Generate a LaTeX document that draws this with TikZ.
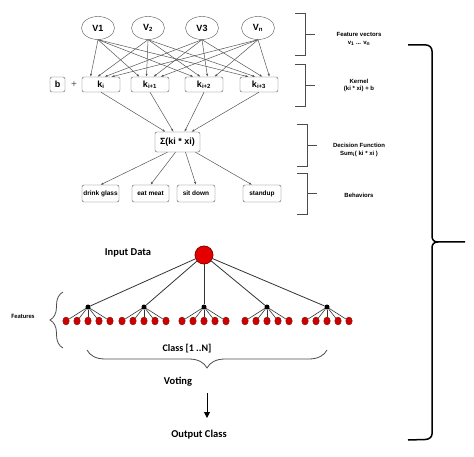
\documentclass[tikz,border=0pt]{standalone}
\usepackage{fontspec}
\newfontfamily\arialfont{Liberation Sans}
\newfontfamily\calfont{Carlito}
\usepackage{tikz}
\usetikzlibrary{positioning,calc,shapes,arrows.meta,decorations.pathreplacing}
\definecolor{DarkRed}{RGB}{140,0,0}
\definecolor{DotRed}{RGB}{205,0,0}
\definecolor{LineGray}{RGB}{85,85,85}

\begin{document}
\begin{tikzpicture}[x=1pt,y=-1pt,
  vec/.style={draw=LineGray,fill=white,ellipse,minimum width=33pt,minimum height=23pt,inner sep=0pt,font=\arialfont\bfseries\fontsize{9}{9}\selectfont},
  ker/.style={draw=LineGray,rounded corners=2pt,minimum width=38pt,minimum height=15pt,inner sep=0pt,font=\arialfont\bfseries\fontsize{9}{9}\selectfont},
  beh/.style={draw=LineGray,rounded corners=2pt,minimum width=37pt,minimum height=17pt,inner sep=0pt,font=\arialfont\bfseries\fontsize{6.5}{7}\selectfont},
  arr/.style={LineGray,line width=0.5pt,-{Latex[length=3pt,width=2.2pt]}},
  brk/.style={draw=black!70,line width=0.9pt},
  lbl/.style={font=\arialfont\bfseries\fontsize{6}{7.5}\selectfont,align=center},
  tln/.style={draw=black!80,line width=0.8pt},
  fdot/.style={circle,fill=black,minimum size=5pt,inner sep=0pt},
  cdot/.style={ellipse,fill=DotRed,draw=DarkRed,line width=0.4pt,minimum width=6.5pt,minimum height=8pt,inner sep=0pt},
  ctext/.style={font=\calfont\bfseries\fontsize{10.5}{12}\selectfont}
]
\useasboundingbox (0,0) rectangle (474,457);

% feature vectors
\node[vec] (v1) at (98,28) {V1};
\node[vec] (v2) at (148,28) {V\textsubscript{2}};
\node[vec] (v3) at (202,28) {V3};
\node[vec] (v4) at (258,28) {V\textsubscript{n}};

% kernel
\node[ker,minimum width=15pt] (b) at (57.5,84.5) {b};
\node[text=LineGray,font=\arialfont\fontsize{10}{10}\selectfont] (plus) at (74,84.5) {+};
\node[ker] (k1) at (101,84.5) {k\textsubscript{i}};
\node[ker] (k2) at (150,84.5) {k\textsubscript{i+1}};
\node[ker] (k3) at (204,84.5) {k\textsubscript{i+2}};
\node[ker] (k4) at (259,84.5) {k\textsubscript{i+3}};

\foreach \v in {1,...,4}
  \foreach \k in {1,...,4}
    \draw[arr] (v\v.south) -- ([xshift={(\v-2.5)*7}]k\k.north);

% decision function
\node[ker,minimum width=45pt,minimum height=20pt,font=\arialfont\bfseries\fontsize{9}{10}\selectfont] (sig) at (177.5,142) {Σ(ki * xi)};
\foreach \k/\dx in {1/-12,2/-4,3/7,4/14}
  \draw[arr] (k\k.south) -- ([xshift=\dx]sig.north);

% behaviors
\node[beh] (b1) at (100.5,193.5) {drink glass};
\node[beh] (b2) at (150.5,193.5) {eat meat};
\node[beh,minimum width=38pt] (b3) at (196,193.5) {sit down};
\node[beh,minimum width=38pt] (b4) at (262,193.5) {standup};
\foreach \b/\dx/\ex in {1/-10/0,2/-2/0,3/8/0,4/18/-10}
  \draw[arr] ([xshift=\dx]sig.south) -- ([xshift=\ex]b\b.north);

% right hand brackets
\draw[brk] (295,13) -- (305,13) -- (305,55) -- (295,55) (305,34) -- (315,34);
\draw[brk] (295,64) -- (305,64) -- (305,106) -- (295,106) (305,85) -- (315,85);
\draw[brk] (297,124) -- (307,124) -- (307,166) -- (297,166) (307,145) -- (317,145);
\draw[brk] (297,173) -- (307,173) -- (307,214) -- (297,214) (307,193) -- (317,193);
\node[lbl] (l1) at (359,39) {Feature vectors\\v\textsubscript{1} ... v\textsubscript{n}};
\node[lbl] (l2) at (359,85.5) {Kernel\\(ki * xi) + b};
\node[lbl] (l3) at (359,150) {Decision Function\\Sum\textsubscript{i}( ki * xi )};
\node[lbl] (l4) at (359,195) {Behaviors};

% big bracket
\draw[line width=1.5pt] (408,45) -- (426,45) to[out=0,in=90] (432,51) -- (432,236)
  .. controls (432,240) and (434,242) .. (438,242) -- (465,242);
\draw[line width=1.5pt] (432,248) .. controls (432,244) and (434,242) .. (438,242);
\draw[line width=1.5pt] (432,248) -- (432,434) to[out=-90,in=0] (425,439.5) -- (408,440);

% voting tree
\node[circle,fill=red!90!black,draw=DarkRed,line width=0.8pt,minimum size=18pt,inner sep=0pt] (inp) at (204,255) {};
\node[ctext] (indata) at (128,253) {Input Data};
\foreach \i/\x in {1/88,2/144,3/204,4/267,5/327} {
  \node[fdot] (f\i) at (\x,307) {};
  \draw[tln] (inp) -- (f\i);
  \foreach \j in {1,...,5} {
    \node[cdot] (c\i\j) at ({\x+(\j-3)*11},321) {};
    \draw[tln,line width=0.6pt] (f\i) -- (c\i\j);
  }
}

\draw[black!70,line width=0.8pt,decorate,decoration={brace,amplitude=13pt}] (63,348) -- (63,292);
\node[font=\calfont\bfseries\fontsize{6.5}{7}\selectfont] (feat) at (23,316) {Features};

\draw[black!70,line width=0.8pt,decorate,decoration={brace,amplitude=18pt}] (327,350) -- (87,350);
\node[ctext,font=\calfont\bfseries\fontsize{10}{12}\selectfont] (cls) at (187,349) {Class [1 ..N]};
\node[ctext] (vote) at (178,382) {Voting};
\coordinate (atop) at (207,393);
\coordinate (abot) at (207,418);
\draw[line width=1pt,-{Triangle[length=6pt,width=6pt]}] (atop) -- (abot);
\node[ctext] (out) at (199,435) {Output Class};
\end{tikzpicture}
\end{document}
